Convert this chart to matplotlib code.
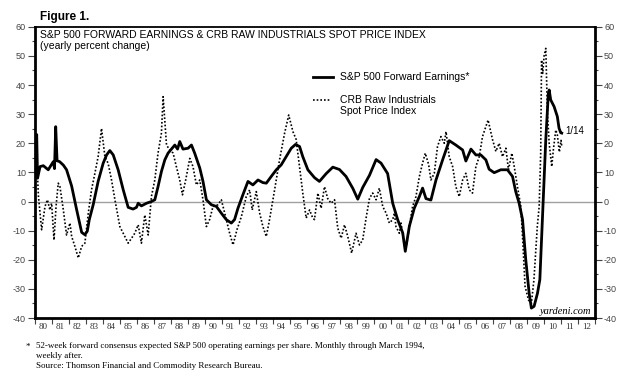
import matplotlib
matplotlib.use("Agg")
import matplotlib.pyplot as plt
from matplotlib.ticker import MultipleLocator, FixedLocator, NullFormatter, FixedFormatter

# ---- data ----
fwd_t = [1980.0, 1980.1, 1980.15, 1980.3, 1980.49, 1980.78, 1981.08, 1981.15, 1981.22, 1981.3,
         1981.45, 1981.67, 1981.86, 1982.16, 1982.45, 1982.75, 1982.94, 1983.08, 1983.2, 1983.43,
         1983.72, 1984.02, 1984.22, 1984.41, 1984.61, 1984.9, 1985.2, 1985.49, 1985.78, 1985.98,
         1986.08, 1986.27, 1986.57, 1986.86, 1987.06, 1987.25, 1987.45, 1987.65, 1987.84, 1988.04,
         1988.24, 1988.4, 1988.53, 1988.72, 1989.02, 1989.22, 1989.41, 1989.71, 1989.9, 1990.1,
         1990.39, 1990.69, 1990.98, 1991.27, 1991.57, 1991.76, 1991.96, 1992.25, 1992.55, 1992.84,
         1993.14, 1993.43, 1993.63, 1993.92, 1994.22, 1994.51, 1994.8, 1995.1, 1995.35, 1995.59,
         1995.78, 1996.08, 1996.47, 1996.76, 1997.16, 1997.55, 1997.94, 1998.33, 1998.73, 1999.02,
         1999.31, 1999.71, 2000.1, 2000.39, 2000.78, 2001.08, 2001.37, 2001.67, 2001.82, 2002.06,
         2002.35, 2002.65, 2002.84, 2003.04, 2003.33, 2003.63, 2004.02, 2004.41, 2004.8, 2005.2,
         2005.39, 2005.69, 2005.98, 2006.27, 2006.57, 2006.76, 2007.06, 2007.45, 2007.84, 2008.14,
         2008.33, 2008.53, 2008.73, 2008.92, 2009.12, 2009.25, 2009.41, 2009.61, 2009.75, 2009.9,
         2010.1, 2010.25, 2010.3, 2010.39, 2010.59, 2010.78, 2010.88, 2010.98, 2011.04]
fwd_v = [13, 23, 8, 12, 12.3, 10.9, 13.7, 11.3, 25.7, 14,
         13.7, 12.5, 10.9, 5.3, -2.7, -10.6, -11.4, -10.2, -6.2, -1.1,
         6.9, 13.2, 16, 17.5, 16, 10.9, 4.0, -2.0, -2.6, -2,
         -0.6, -1.5, -0.6, 0, 0.6, 5.1, 10.3, 14.3, 16.6, 18,
         19.4, 18, 20.6, 18, 18.3, 19.4, 16.6, 11.5, 6.9, 0.6,
         -1.1, -1.7, -4.0, -6.2, -7.4, -6.2, -2.3, 2.3, 6.9, 5.7,
         7.4, 6.5, 6.3, 8.6, 10.9, 12.6, 15.4, 18.3, 19.6, 18.9,
         15.4, 10.9, 8.2, 6.9, 9.6, 11.8, 11.0, 8.6, 4.5, 0.8,
         4.8, 9.0, 14.4, 13.2, 9.6, -0.6, -6.2, -10.8, -17.1, -8.5,
         -2.3, 1.7, 4.6, 1.0, 0.5, 7.4, 14.3, 20.9, 19.4, 17.7,
         13.9, 18, 16, 16, 14.3, 11.1, 9.9, 10.9, 10.9, 8.6,
         3.4, -0.6, -6.2, -20, -31.5, -36.6, -36, -31.5, -26.8, -6.2,
         21.3, 37, 38.3, 34.9, 32.6, 29.2, 25.2, 23.6, 23.5]

crb_t = [1980.0, 1980.06, 1980.2, 1980.39, 1980.59, 1980.73, 1980.88, 1980.98, 1981.12, 1981.24,
         1981.37, 1981.47, 1981.67, 1981.86, 1982.06, 1982.16, 1982.35, 1982.55, 1982.75, 1982.94,
         1983.14, 1983.33, 1983.53, 1983.72, 1983.92, 1984.12, 1984.31, 1984.51, 1984.71, 1985.0,
         1985.29, 1985.49, 1985.69, 1985.88, 1986.08, 1986.27, 1986.47, 1986.67, 1986.86, 1987.06,
         1987.25, 1987.45, 1987.55, 1987.75, 1987.94, 1988.14, 1988.33, 1988.53, 1988.69, 1988.88,
         1989.12, 1989.31, 1989.51, 1989.71, 1989.9, 1990.1, 1990.29, 1990.49, 1990.78, 1990.98,
         1991.18, 1991.47, 1991.67, 1991.9, 1992.16, 1992.45, 1992.65, 1992.8, 1993.04, 1993.24,
         1993.43, 1993.63, 1993.82, 1994.12, 1994.41, 1994.71, 1994.95, 1995.2, 1995.39, 1995.59,
         1995.78, 1995.98, 1996.18, 1996.37, 1996.47, 1996.67, 1996.86, 1997.06, 1997.25, 1997.45,
         1997.65, 1997.84, 1998.04, 1998.24, 1998.43, 1998.66, 1998.92, 1999.12, 1999.31, 1999.51,
         1999.71, 1999.9, 2000.1, 2000.29, 2000.49, 2000.69, 2000.88, 2001.08, 2001.18, 2001.27,
         2001.47, 2001.57, 2001.76, 2001.84, 2001.96, 2002.06, 2002.25, 2002.45, 2002.65, 2002.84,
         2003.0, 2003.2, 2003.33, 2003.53, 2003.72, 2003.92, 2004.12, 2004.22, 2004.41, 2004.61,
         2004.8, 2005.0, 2005.2, 2005.39, 2005.59, 2005.78, 2005.98, 2006.18, 2006.37, 2006.57,
         2006.7, 2006.96, 2007.16, 2007.35, 2007.55, 2007.75, 2007.9, 2008.1, 2008.24, 2008.43,
         2008.63, 2008.73, 2008.88, 2009.08, 2009.25, 2009.4, 2009.5, 2009.6, 2009.71, 2009.8,
         2009.85, 2009.92, 2010.0, 2010.1, 2010.2, 2010.3, 2010.45, 2010.55, 2010.69, 2010.78,
         2010.9, 2011.0, 2011.04]
crb_v = [14, 20, 2, -9.7, -1.7, 0.6, -2.9, -0.6, -13.2, -1.7,
         6.3, 5.1, -2.9, -11.5, -7.4, -12, -15.4, -19.4, -15.4, -14.3,
         -4, 4, 9.7, 15.4, 25.1, 15.4, 13.1, 7.4, 0.6, -8.6,
         -12, -14.3, -12.6, -10.9, -8, -14.3, -4.6, -11.5, 1.7, 7.4,
         16.6, 23.5, 36, 19.4, 17.7, 16.6, 12, 7.4, 2.3, 7.4,
         14.8, 12, 5.7, 7.4, 0.6, -8.6, -6.2, -1.7, -1.1, 0.6,
         -4, -10.9, -14.9, -9.7, -5.2, 1.7, 4.0, -2.9, 3.4, -4,
         -8.6, -12, -6.2, 4, 14.3, 23.5, 29.7, 24, 21.3, 12,
         2.9, -5.7, -2.9, -5.7, -6.2, 2.9, -2.3, 5.1, 1, -0.6,
         0.6, -9.1, -12.6, -8, -12, -17.7, -10.9, -14.9, -13.2, -5.7,
         1.1, 2.9, 0.6, 4.6, -1.7, -4, -7.4, -6.2, -4, -8.6,
         -10.9, -7.4, -14.9, -16.6, -12.6, -8.6, -1.7, 1.7, 8.6, 13.2,
         16.6, 12.6, 7.4, 9.7, 18.9, 22.3, 20, 24, 15.4, 12,
         5.1, 1.7, 7.4, 9.7, 4, 2.9, 12, 15.4, 22.3, 25.7,
         28, 21.3, 17.2, 20, 15.4, 18.3, 10.9, 16.6, 12, 5.1,
         -1.7, -12, -29.2, -33.8, -35, -27, -17.7, -8.6, -1.7, 16.6,
         48.6, 44, 50, 52.6, 30, 20, 12, 18, 24.6, 22.9,
         17, 21, 19]

years = list(range(1980, 2013))
year_labels = ["%02d" % (y % 100) for y in years]
yticks = list(range(-40, 61, 10))

SANS = "Liberation Sans"
SERIF = "Liberation Serif"

fig = plt.figure(figsize=(6.4, 3.83), dpi=100)
ax = fig.add_axes([35 / 640, 1 - 318.0 / 383, 560 / 640, 291.2 / 383])

ax.axhline(0, color="#a0a0a0", lw=1.0, zorder=1)
ax.plot(crb_t, crb_v, color="black", lw=1.2, ls=(0, (1, 1.2)), zorder=2)
ax.plot(fwd_t, fwd_v, color="black", lw=2.0, solid_joinstyle="round", zorder=3)

ax.set_xlim(1980, 2013)
ax.set_ylim(-40, 60)

for side, s in ax.spines.items():
    s.set_linewidth(1.3 if side == "top" else 2.0)

ax.yaxis.set_major_locator(MultipleLocator(10))
ax.yaxis.set_minor_locator(MultipleLocator(5))
ax.set_yticks(yticks)
ax.set_yticklabels([str(v) for v in yticks])
ax.tick_params(axis="y", which="both", direction="out", left=True, right=True,
               labelleft=True, labelright=True, labelsize=6.5, labelcolor="#444444",
               width=0.8, color="#444444", pad=1.5)
ax.tick_params(axis="y", which="major", length=5)
ax.tick_params(axis="y", which="minor", length=2.2)
for lab in ax.get_yticklabels():
    lab.set_fontfamily(SANS)

ax.xaxis.set_major_locator(FixedLocator(years + [2013]))
ax.xaxis.set_major_formatter(NullFormatter())
ax.xaxis.set_minor_locator(FixedLocator([y + 0.5 for y in years]))
ax.xaxis.set_minor_formatter(FixedFormatter(year_labels))
ax.tick_params(axis="x", which="major", direction="out", length=4.5, width=0.8, color="#444444")
ax.tick_params(axis="x", which="minor", length=0, labelsize=6.5, labelcolor="#333333", pad=3.5)
for lab in ax.get_xticklabels(minor=True):
    lab.set_fontfamily(SERIF)

# texts
fig.text(40 / 640, 1 - 17 / 383, "Figure 1.", fontsize=8.5, fontweight="bold",
         family=SANS, va="center", ha="left")
fig.text(40 / 640, 1 - 35.5 / 383,
         "S&P 500 FORWARD EARNINGS & CRB RAW INDUSTRIALS SPOT PRICE INDEX",
         fontsize=7.5, family=SANS, va="center", ha="left")
fig.text(40 / 640, 1 - 46 / 383, "(yearly percent change)",
         fontsize=7.5, family=SANS, va="center", ha="left")


def ax_xy(px, py):
    return (px - 35) / 560, (318.0 - py) / 291.2


# legend
x0, y0 = ax_xy(313, 77)
x1, _ = ax_xy(333, 77)
ax.plot([x0, x1], [y0, y0], transform=ax.transAxes, color="black", lw=2.0, clip_on=False)
tx, ty = ax_xy(340, 77)
ax.text(tx, ty, "S&P 500 Forward Earnings*", transform=ax.transAxes, fontsize=7.5,
        family=SANS, va="center", ha="left")
x0, y0 = ax_xy(313, 100)
x1, _ = ax_xy(331, 100)
ax.plot([x0, x1], [y0, y0], transform=ax.transAxes, color="black", lw=1.2,
        ls=(0, (1, 1.2)), clip_on=False)
tx, ty = ax_xy(340, 100)
ax.text(tx, ty, "CRB Raw Industrials", transform=ax.transAxes, fontsize=7.5,
        family=SANS, va="center", ha="left")
tx, ty = ax_xy(340, 111)
ax.text(tx, ty, "Spot Price Index", transform=ax.transAxes, fontsize=7.5,
        family=SANS, va="center", ha="left")

tx, ty = ax_xy(565, 131)
ax.text(tx, ty, "1/14", transform=ax.transAxes, fontsize=7, family=SANS,
        va="center", ha="left")

tx, ty = ax_xy(591, 311)
ax.text(tx, ty, "yardeni.com", transform=ax.transAxes, fontsize=7.5, family=SERIF,
        style="italic", va="center", ha="right")

# footnotes
fig.text(26 / 640, 1 - 346.5 / 383, "*", fontsize=6.5, family=SERIF, va="center", ha="left")
fig.text(36 / 640, 1 - 346.5 / 383,
         "52-week forward consensus expected S&P 500 operating earnings per share. Monthly through March 1994,",
         fontsize=6.5, family=SERIF, va="center", ha="left")
fig.text(36 / 640, 1 - 356.5 / 383, "weekly after.", fontsize=6.5, family=SERIF,
         va="center", ha="left")
fig.text(36 / 640, 1 - 366.5 / 383, "Source: Thomson Financial and Commodity Research Bureau.",
         fontsize=6.5, family=SERIF, va="center", ha="left")

fig.savefig("out.png", dpi=100)
